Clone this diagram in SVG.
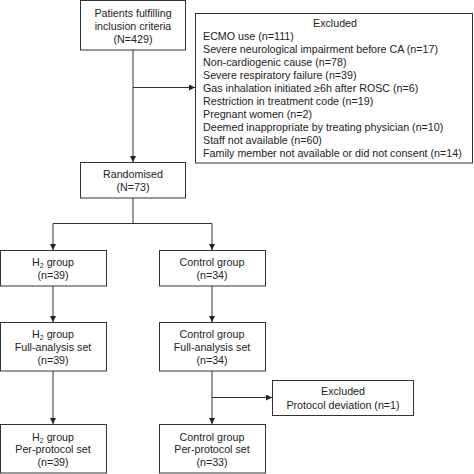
<svg xmlns="http://www.w3.org/2000/svg" width="474" height="474" viewBox="0 0 474 474">
<defs>
<marker id="ah" viewBox="0 0 6 6" refX="6" refY="3" markerWidth="6" markerHeight="6" markerUnits="userSpaceOnUse" orient="auto">
<path d="M0,0 L6,3 L0,6 Z" fill="#222"/>
</marker>
<style>
.box{fill:#fff;stroke:#333;stroke-width:1}
.t{font-family:"Liberation Sans",Arial,sans-serif;font-size:10.7px;fill:#222}
.c{text-anchor:middle}
.ln{fill:none;stroke:#333;stroke-width:1}
.sub{font-size:7px}
</style>
</defs>
<rect width="474" height="474" fill="#fff"/>
<g id="connectors">
<path class="ln" d="M133,50 V162" marker-end="url(#ah)"/>
<path class="ln" d="M133,87.5 H195" marker-end="url(#ah)"/>
<path class="ln" d="M133,198 V223.5 M53,223.5 H212"/>
<path class="ln" d="M53,223.5 V250" marker-end="url(#ah)"/>
<path class="ln" d="M212,223.5 V250" marker-end="url(#ah)"/>
<path class="ln" d="M53,286 V322" marker-end="url(#ah)"/>
<path class="ln" d="M212,286 V322" marker-end="url(#ah)"/>
<path class="ln" d="M53,371 V424" marker-end="url(#ah)"/>
<path class="ln" d="M212,371 V424" marker-end="url(#ah)"/>
<path class="ln" d="M212,397.5 H272" marker-end="url(#ah)"/>
</g>
<g id="patients">
<rect class="box" x="80.5" y="0.5" width="105" height="49.5"/>
<text class="t c" x="133" y="17">Patients fulfilling</text>
<text class="t c" x="133" y="30">inclusion criteria</text>
<text class="t c" x="133" y="43">(N=429)</text>
</g>
<g id="excluded1">
<rect class="box" x="195.5" y="13.5" width="277" height="149.5"/>
<text class="t c" x="335" y="27">Excluded</text>
<text class="t" x="203" y="40">ECMO use (n=111)</text>
<text class="t" x="203" y="53">Severe neurological impairment before CA (n=17)</text>
<text class="t" x="203" y="66">Non-cardiogenic cause (n=78)</text>
<text class="t" x="203" y="79">Severe respiratory failure (n=39)</text>
<text class="t" x="203" y="92">Gas inhalation initiated ≥6h after ROSC (n=6)</text>
<text class="t" x="203" y="105">Restriction in treatment code (n=19)</text>
<text class="t" x="203" y="118">Pregnant women (n=2)</text>
<text class="t" x="203" y="131">Deemed inappropriate by treating physician (n=10)</text>
<text class="t" x="203" y="144">Staff not available (n=60)</text>
<text class="t" x="203" y="157">Family member not available or did not consent (n=14)</text>
</g>
<g id="randomised">
<rect class="box" x="80.5" y="162.5" width="105" height="35.5"/>
<text class="t c" x="133" y="178">Randomised</text>
<text class="t c" x="133" y="191">(N=73)</text>
</g>
<g id="h2group">
<rect class="box" x="0.5" y="250.5" width="106" height="35.5"/>
<text class="t c" x="53" y="265.5">H<tspan class="sub" dy="2">2</tspan><tspan dy="-2"> group</tspan></text>
<text class="t c" x="53" y="279">(n=39)</text>
</g>
<g id="controlgroup">
<rect class="box" x="159.5" y="250.5" width="106" height="35.5"/>
<text class="t c" x="212" y="265.5">Control group</text>
<text class="t c" x="212" y="279">(n=34)</text>
</g>
<g id="h2fas">
<rect class="box" x="0.5" y="322.5" width="106" height="48.5"/>
<text class="t c" x="53" y="338">H<tspan class="sub" dy="2">2</tspan><tspan dy="-2"> group</tspan></text>
<text class="t c" x="53" y="351">Full-analysis set</text>
<text class="t c" x="53" y="364">(n=39)</text>
</g>
<g id="controlfas">
<rect class="box" x="159.5" y="322.5" width="106" height="48.5"/>
<text class="t c" x="212" y="338">Control group</text>
<text class="t c" x="212" y="351">Full-analysis set</text>
<text class="t c" x="212" y="364">(n=34)</text>
</g>
<g id="excluded2">
<rect class="box" x="272.5" y="380.5" width="141" height="35"/>
<text class="t c" x="343" y="395">Excluded</text>
<text class="t c" x="343" y="408.5">Protocol deviation (n=1)</text>
</g>
<g id="h2pps">
<rect class="box" x="0.5" y="424.5" width="106" height="48.5"/>
<text class="t c" x="53" y="440.5">H<tspan class="sub" dy="2">2</tspan><tspan dy="-2"> group</tspan></text>
<text class="t c" x="53" y="453">Per-protocol set</text>
<text class="t c" x="53" y="466">(n=39)</text>
</g>
<g id="controlpps">
<rect class="box" x="159.5" y="424.5" width="106" height="48.5"/>
<text class="t c" x="212" y="440.5">Control group</text>
<text class="t c" x="212" y="453">Per-protocol set</text>
<text class="t c" x="212" y="466">(n=33)</text>
</g>
</svg>
